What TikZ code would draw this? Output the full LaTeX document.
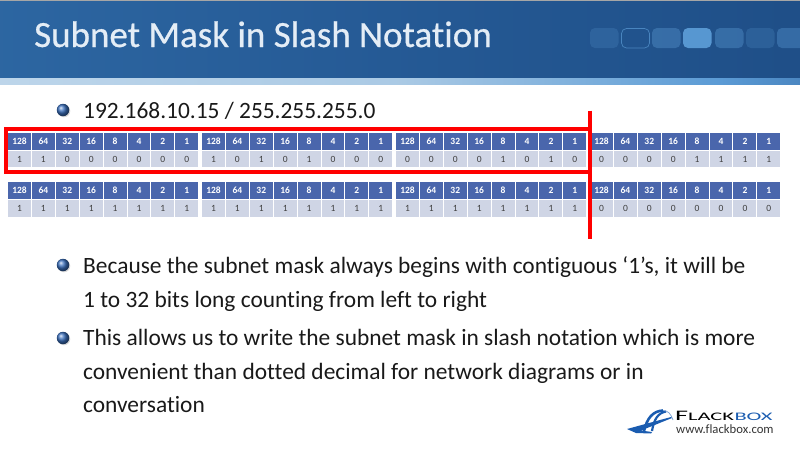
\documentclass[tikz,border=0pt]{standalone}
\usepackage{fontspec}
\setmainfont[Ligatures=NoCommon]{Carlito}
\usetikzlibrary{shadows}
\definecolor{bandblue}{HTML}{1B4A85}
\definecolor{bandlight}{HTML}{4288C4}
\definecolor{hdrblue}{HTML}{4A66AC}
\definecolor{valgrey}{HTML}{CFD5E5}
\definecolor{btnblue}{HTML}{5B9BD5}
\definecolor{logoblue}{HTML}{1A5CB0}
\definecolor{ballblue}{HTML}{3A6FBC}
\definecolor{titlewhite}{HTML}{E4EDF6}
\pgfdeclarehorizontalshading{bandshade}{100bp}{
  color(0bp)=(bandlight); color(25bp)=(bandlight!45!bandblue);
  color(50bp)=(bandblue!75!bandlight); color(100bp)=(bandblue!92!black)}
\pgfdeclarehorizontalshading{stripshade}{100bp}{
  color(0bp)=(bandlight!65!white); color(25bp)=(bandlight!35!white);
  color(50bp)=(bandlight!45!white); color(70bp)=(btnblue); color(90bp)=(bandblue); color(100bp)=(bandblue)}
\tikzset{
  hdr/.style={fill=hdrblue,text=white,font=\fontsize{9.5}{9.5}\selectfont\bfseries,
    minimum width=22.9pt,minimum height=16.4pt,inner sep=0pt},
  val/.style={fill=valgrey,text=black!75,font=\fontsize{9.5}{9.5}\selectfont,
    minimum width=22.9pt,minimum height=16.4pt,inner sep=0pt},
  txt/.style={anchor=base west,inner sep=0pt,font=\fontsize{23.4}{23.4}\selectfont,text=black!90},
  bullet/.style={circle,minimum size=12.5pt,inner sep=0pt,shading=ball,ball color=ballblue,
    drop shadow={shadow xshift=1pt,shadow yshift=-1pt,opacity=.3}},
  btn/.style={rounded corners=5pt,fill=btnblue},
  redline/.style={draw=red,line width=4pt}
}
\begin{document}
\begin{tikzpicture}[x=1pt,y=-1pt]
  \useasboundingbox (0,0) rectangle (800,450);
  % title band
  \shade [shading=bandshade] (0,0) rectangle (800,84);
  \fill [black!35] (0,0) rectangle (800,1);
  \shade [shading=stripshade] (0,78) rectangle (800,84);
  \node [anchor=base west,inner sep=0pt,text=titlewhite,font=\fontsize{37}{37}\selectfont\addfontfeature{FakeBold=.6}] (title) at (34,47) {Subnet Mask in Slash Notation};
  % buttons
  \foreach \x/\o in {590/.22,652/.38,683/.95,715/.38,746/.22,777/.38}
    \fill [btn,opacity=\o] (\x,28) rectangle ++(28.5,20);
  \draw [btnblue,opacity=.7,rounded corners=5pt,line width=.7pt] (621.5,28.5) rectangle (649.5,48);
  % address line
  \node [bullet] (b1) at (63,110) {};
  \node [txt] (addr) at (83,118.5) {192.168.10.15 / 255.255.255.0};
  % the four octets, twice
  \foreach \g in {0,1,2,3} {
    \foreach \w [count=\c from 0] in {128,64,32,16,8,4,2,1} {
      \node [hdr] (ha\g-\c) at ({19.5+194*\g+23.9*\c},141.4) {\w};
      \node [hdr] (hb\g-\c) at ({19.5+194*\g+23.9*\c},190.4) {\w};
    }
  }
  \foreach \v [count=\n from 0] in {1,1,0,0,0,0,0,0,1,0,1,0,1,0,0,0,0,0,0,0,1,0,1,0,0,0,0,0,1,1,1,1} {
    \pgfmathtruncatemacro\g{int(\n/8)}
    \pgfmathtruncatemacro\c{mod(\n,8)}
    \node [val] (va\n) at ({19.5+194*\g+23.9*\c},159.2) {\v};
  }
  \foreach \v [count=\n from 0] in {1,1,1,1,1,1,1,1,1,1,1,1,1,1,1,1,1,1,1,1,1,1,1,1,0,0,0,0,0,0,0,0} {
    \pgfmathtruncatemacro\g{int(\n/8)}
    \pgfmathtruncatemacro\c{mod(\n,8)}
    \node [val] (vb\n) at ({19.5+194*\g+23.9*\c},208.4) {\v};
  }
  % red marks
  \draw [redline] (589.5,129) -| (5.5,171.5) -- (589.5,171.5);
  \draw [redline] (589.5,110.5) -- (589.5,239);
  % text
  \node [bullet] (b2) at (63,265) {};
  \node [txt] (l1) at (83,273.5) {Because the subnet mask always begins with contiguous ‘1’s, it will be};
  \node [txt] (l2) at (83,307.5) {1 to 32 bits long counting from left to right};
  \node [bullet] (b3) at (63,338) {};
  \node [txt] (l3) at (83,345.5) {This allows us to write the subnet mask in slash notation which is more};
  \node [txt] (l4) at (83,379) {convenient than dotted decimal for network diagrams or in};
  \node [txt] (l5) at (83,412.5) {conversation};
  % logo
  \fill [logoblue] (627,429) -- (671,417) -- (672,418) -- (641,430.5) -- (652,432) -- (651,433.5) -- (636,433) -- cycle;
  \draw [logoblue,line width=2.6pt] (644,431) .. controls (647,418) and (653,411) .. (663,410.5);
  \draw [logoblue,line width=2.2pt] (652,431) .. controls (654,419) and (658,413) .. (666,411.5);
  \draw [logoblue!60!white,line width=.7pt] (663,410.5) .. controls (668,410.5) and (671,414) .. (673,420);
  \node [anchor=base west,inner sep=0pt,font=\fontsize{14.5}{14.5}\selectfont\addfontfeature{FakeStretch=1.95}] (flack) at (675,420) {F\fontsize{11.5}{11.5}\selectfont LACK\kern.5pt\textcolor{logoblue}{BOX}};
  \node [anchor=base west,inner sep=0pt,text=black!80,font=\fontsize{12.7}{12.7}\selectfont] (web) at (676,433) {www.flackbox.com};
\end{tikzpicture}
\end{document}
